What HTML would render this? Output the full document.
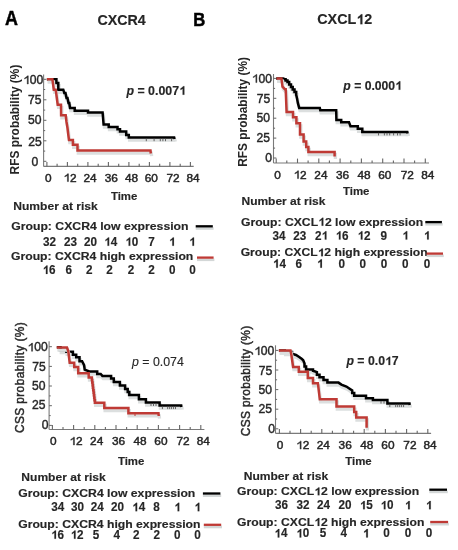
<!DOCTYPE html>
<html><head><meta charset="utf-8"><style>
html,body{margin:0;padding:0;background:#fff;width:458px;height:550px;overflow:hidden}
svg{display:block;font-family:"Liberation Sans",sans-serif;filter:blur(0.5px)}
</style></head><body>
<svg width="458" height="550" viewBox="0 0 458 550">
<defs><filter id="bl" x="-5%" y="-30%" width="110%" height="160%"><feGaussianBlur stdDeviation="0.7"/></filter></defs>
<rect width="458" height="550" fill="#fff"/>
<text transform="translate(5.00,25.20) scale(0.92,1)" font-size="19.5" font-weight="bold" fill="#000" stroke="#000" stroke-width="0.45" >A</text>
<text x="97.38" y="24.50" font-size="14.26" font-weight="bold" fill="#262626" stroke="#262626" stroke-width="0.15" >CXCR4</text>
<text transform="translate(193.20,26.10) scale(0.9,1)" font-size="18.5" font-weight="bold" fill="#000" stroke="#000" stroke-width="0.5" >B</text>
<text x="317.28" y="24.20" font-size="14.33" font-weight="bold" fill="#262626" stroke="#262626" stroke-width="0.15" >CXCL 2</text>
<path transform="translate(356.29,24.20) scale(14.330,14.330)" d="M0.425,0 L0.285,0 L0.285,-0.49 Q0.2,-0.415 0.11,-0.375 L0.11,-0.5 Q0.25,-0.57 0.33,-0.688 L0.425,-0.688 Z" fill="#262626" stroke="#262626" stroke-width="0.0105"/>
<line x1="43.6" y1="74.5" x2="43.6" y2="166.4" stroke="#7a7a7a" stroke-width="1.1"/>
<line x1="43.6" y1="166.4" x2="193.7" y2="166.4" stroke="#7a7a7a" stroke-width="1.1"/>
<line x1="43.6" y1="161.3" x2="46.4" y2="161.3" stroke="#666" stroke-width="1"/>
<line x1="43.6" y1="151.1" x2="45.2" y2="151.1" stroke="#666" stroke-width="1"/>
<line x1="43.6" y1="140.8" x2="46.4" y2="140.8" stroke="#666" stroke-width="1"/>
<line x1="43.6" y1="130.6" x2="45.2" y2="130.6" stroke="#666" stroke-width="1"/>
<line x1="43.6" y1="120.3" x2="46.4" y2="120.3" stroke="#666" stroke-width="1"/>
<line x1="43.6" y1="110.1" x2="45.2" y2="110.1" stroke="#666" stroke-width="1"/>
<line x1="43.6" y1="99.8" x2="46.4" y2="99.8" stroke="#666" stroke-width="1"/>
<line x1="43.6" y1="89.5" x2="45.2" y2="89.5" stroke="#666" stroke-width="1"/>
<line x1="43.6" y1="79.3" x2="46.4" y2="79.3" stroke="#666" stroke-width="1"/>
<line x1="46.9" y1="166.4" x2="46.9" y2="162.0" stroke="#666" stroke-width="1.1"/>
<line x1="57.1" y1="166.4" x2="57.1" y2="163.8" stroke="#666" stroke-width="1.1"/>
<line x1="67.4" y1="166.4" x2="67.4" y2="162.0" stroke="#666" stroke-width="1.1"/>
<line x1="77.7" y1="166.4" x2="77.7" y2="163.8" stroke="#666" stroke-width="1.1"/>
<line x1="87.9" y1="166.4" x2="87.9" y2="162.0" stroke="#666" stroke-width="1.1"/>
<line x1="98.2" y1="166.4" x2="98.2" y2="163.8" stroke="#666" stroke-width="1.1"/>
<line x1="108.4" y1="166.4" x2="108.4" y2="162.0" stroke="#666" stroke-width="1.1"/>
<line x1="118.7" y1="166.4" x2="118.7" y2="163.8" stroke="#666" stroke-width="1.1"/>
<line x1="128.9" y1="166.4" x2="128.9" y2="162.0" stroke="#666" stroke-width="1.1"/>
<line x1="139.2" y1="166.4" x2="139.2" y2="163.8" stroke="#666" stroke-width="1.1"/>
<line x1="149.4" y1="166.4" x2="149.4" y2="162.0" stroke="#666" stroke-width="1.1"/>
<line x1="159.7" y1="166.4" x2="159.7" y2="163.8" stroke="#666" stroke-width="1.1"/>
<line x1="169.9" y1="166.4" x2="169.9" y2="162.0" stroke="#666" stroke-width="1.1"/>
<line x1="180.2" y1="166.4" x2="180.2" y2="163.8" stroke="#666" stroke-width="1.1"/>
<line x1="190.4" y1="166.4" x2="190.4" y2="162.0" stroke="#666" stroke-width="1.1"/>
<text transform="translate(23.13,84.00) scale(1.02,1)" font-size="11.9" font-weight="normal" fill="#262626" stroke="#262626" stroke-width="0.4" > 00</text>
<path transform="translate(23.13,84.00) scale(12.138,11.900)" d="M0.425,0 L0.338,0 L0.338,-0.545 Q0.24,-0.465 0.12,-0.415 L0.12,-0.495 Q0.28,-0.58 0.36,-0.688 L0.425,-0.688 Z" fill="#262626" stroke="#262626" stroke-width="0.0336"/>
<text transform="translate(27.96,104.10) scale(1.02,1)" font-size="11.9" font-weight="normal" fill="#262626" stroke="#262626" stroke-width="0.4" >75</text>
<text transform="translate(27.96,124.40) scale(1.02,1)" font-size="11.9" font-weight="normal" fill="#262626" stroke="#262626" stroke-width="0.4" >50</text>
<text transform="translate(28.16,145.50) scale(1.02,1)" font-size="11.9" font-weight="normal" fill="#262626" stroke="#262626" stroke-width="0.4" >25</text>
<text transform="translate(31.60,165.90) scale(1.02,1)" font-size="11.9" font-weight="normal" fill="#262626" stroke="#262626" stroke-width="0.4" >0</text>
<text transform="translate(44.91,181.60) scale(1.04,1)" font-size="11.4" font-weight="normal" fill="#262626" stroke="#262626" stroke-width="0.45" >0</text>
<text transform="translate(63.40,181.60) scale(1.04,1)" font-size="11.4" font-weight="normal" fill="#262626" stroke="#262626" stroke-width="0.45" > 2</text>
<path transform="translate(63.40,181.60) scale(11.856,11.400)" d="M0.425,0 L0.338,0 L0.338,-0.545 Q0.24,-0.465 0.12,-0.415 L0.12,-0.495 Q0.28,-0.58 0.36,-0.688 L0.425,-0.688 Z" fill="#262626" stroke="#262626" stroke-width="0.0395"/>
<text transform="translate(83.40,181.60) scale(1.04,1)" font-size="11.4" font-weight="normal" fill="#262626" stroke="#262626" stroke-width="0.45" >24</text>
<text transform="translate(104.75,181.60) scale(1.04,1)" font-size="11.4" font-weight="normal" fill="#262626" stroke="#262626" stroke-width="0.45" >36</text>
<text transform="translate(125.01,181.60) scale(1.04,1)" font-size="11.4" font-weight="normal" fill="#262626" stroke="#262626" stroke-width="0.45" >48</text>
<text transform="translate(144.76,181.60) scale(1.04,1)" font-size="11.4" font-weight="normal" fill="#262626" stroke="#262626" stroke-width="0.45" >60</text>
<text transform="translate(166.42,181.60) scale(1.04,1)" font-size="11.4" font-weight="normal" fill="#262626" stroke="#262626" stroke-width="0.45" >72</text>
<text transform="translate(186.53,181.60) scale(1.04,1)" font-size="11.4" font-weight="normal" fill="#262626" stroke="#262626" stroke-width="0.45" >84</text>
<text x="110.94" y="199.60" font-size="11.41" font-weight="bold" fill="#262626" stroke="#262626" stroke-width="0.15" >Time</text>
<text x="126.45" y="94.70" font-size="12.38" font-weight="bold" fill="#262626" stroke="#262626" stroke-width="0.15" ><tspan font-style="italic">p</tspan> = 0.007 </text>
<path transform="translate(179.10,94.70) scale(12.380,12.380)" d="M0.425,0 L0.285,0 L0.285,-0.49 Q0.2,-0.415 0.11,-0.375 L0.11,-0.5 Q0.25,-0.57 0.33,-0.688 L0.425,-0.688 Z" fill="#262626" stroke="#262626" stroke-width="0.0121"/>
<text transform="translate(13.26,210.40) scale(1.06,1)" font-size="11.4" font-weight="bold" fill="#262626" stroke="#262626" stroke-width="0.15" >Number at risk</text>
<text transform="translate(11.16,230.00) scale(1.06,1)" font-size="11.55" font-weight="bold" fill="#262626" stroke="#262626" stroke-width="0.15" >Group: CXCR4 low expression</text>
<text transform="translate(10.96,260.40) scale(1.06,1)" font-size="11.52" font-weight="bold" fill="#262626" stroke="#262626" stroke-width="0.15" >Group: CXCR4 high expression</text>
<line x1="195.7" y1="228.5" x2="213.60000000000002" y2="228.5" stroke="#d3d7d7" stroke-width="2.6"/>
<line x1="195.7" y1="226.3" x2="212.8" y2="226.3" stroke="#000" stroke-width="2.3"/>
<line x1="197" y1="259.8" x2="214.4" y2="259.8" stroke="#d3d7d7" stroke-width="2.6"/>
<line x1="197" y1="257.6" x2="213.6" y2="257.6" stroke="#bf3a35" stroke-width="2.3"/>
<text transform="translate(42.99,245.80) scale(0.96,1)" font-size="12.2" font-weight="bold" fill="#262626" stroke="#262626" stroke-width="0.15" >32</text>
<text transform="translate(63.90,245.80) scale(0.96,1)" font-size="12.2" font-weight="bold" fill="#262626" stroke="#262626" stroke-width="0.15" >23</text>
<text transform="translate(83.93,245.80) scale(0.96,1)" font-size="12.2" font-weight="bold" fill="#262626" stroke="#262626" stroke-width="0.15" >20</text>
<text transform="translate(104.18,245.80) scale(0.96,1)" font-size="12.2" font-weight="bold" fill="#262626" stroke="#262626" stroke-width="0.15" > 4</text>
<path transform="translate(104.18,245.80) scale(11.712,12.200)" d="M0.425,0 L0.285,0 L0.285,-0.49 Q0.2,-0.415 0.11,-0.375 L0.11,-0.5 Q0.25,-0.57 0.33,-0.688 L0.425,-0.688 Z" fill="#262626" stroke="#262626" stroke-width="0.0123"/>
<text transform="translate(125.29,245.80) scale(0.96,1)" font-size="12.2" font-weight="bold" fill="#262626" stroke="#262626" stroke-width="0.15" > 0</text>
<path transform="translate(125.29,245.80) scale(11.712,12.200)" d="M0.425,0 L0.285,0 L0.285,-0.49 Q0.2,-0.415 0.11,-0.375 L0.11,-0.5 Q0.25,-0.57 0.33,-0.688 L0.425,-0.688 Z" fill="#262626" stroke="#262626" stroke-width="0.0123"/>
<text transform="translate(148.15,245.80) scale(0.96,1)" font-size="12.2" font-weight="bold" fill="#262626" stroke="#262626" stroke-width="0.15" >7</text>
<text transform="translate(168.97,245.80) scale(0.96,1)" font-size="12.2" font-weight="bold" fill="#262626" stroke="#262626" stroke-width="0.15" > </text>
<path transform="translate(168.97,245.80) scale(11.712,12.200)" d="M0.425,0 L0.285,0 L0.285,-0.49 Q0.2,-0.415 0.11,-0.375 L0.11,-0.5 Q0.25,-0.57 0.33,-0.688 L0.425,-0.688 Z" fill="#262626" stroke="#262626" stroke-width="0.0123"/>
<text transform="translate(189.07,245.80) scale(0.96,1)" font-size="12.2" font-weight="bold" fill="#262626" stroke="#262626" stroke-width="0.15" > </text>
<path transform="translate(189.07,245.80) scale(11.712,12.200)" d="M0.425,0 L0.285,0 L0.285,-0.49 Q0.2,-0.415 0.11,-0.375 L0.11,-0.5 Q0.25,-0.57 0.33,-0.688 L0.425,-0.688 Z" fill="#262626" stroke="#262626" stroke-width="0.0123"/>
<text transform="translate(42.56,274.00) scale(0.96,1)" font-size="12.2" font-weight="bold" fill="#262626" stroke="#262626" stroke-width="0.15" > 6</text>
<path transform="translate(42.56,274.00) scale(11.712,12.200)" d="M0.425,0 L0.285,0 L0.285,-0.49 Q0.2,-0.415 0.11,-0.375 L0.11,-0.5 Q0.25,-0.57 0.33,-0.688 L0.425,-0.688 Z" fill="#262626" stroke="#262626" stroke-width="0.0123"/>
<text transform="translate(65.55,274.00) scale(0.96,1)" font-size="12.2" font-weight="bold" fill="#262626" stroke="#262626" stroke-width="0.15" >6</text>
<text transform="translate(86.08,274.00) scale(0.96,1)" font-size="12.2" font-weight="bold" fill="#262626" stroke="#262626" stroke-width="0.15" >2</text>
<text transform="translate(106.18,274.00) scale(0.96,1)" font-size="12.2" font-weight="bold" fill="#262626" stroke="#262626" stroke-width="0.15" >2</text>
<text transform="translate(127.68,274.00) scale(0.96,1)" font-size="12.2" font-weight="bold" fill="#262626" stroke="#262626" stroke-width="0.15" >2</text>
<text transform="translate(148.18,274.00) scale(0.96,1)" font-size="12.2" font-weight="bold" fill="#262626" stroke="#262626" stroke-width="0.15" >2</text>
<text transform="translate(168.95,274.00) scale(0.96,1)" font-size="12.2" font-weight="bold" fill="#262626" stroke="#262626" stroke-width="0.15" >0</text>
<text transform="translate(189.25,274.00) scale(0.96,1)" font-size="12.2" font-weight="bold" fill="#262626" stroke="#262626" stroke-width="0.15" >0</text>
<text transform="translate(18.72,174.42) rotate(-90)" font-size="11.92" font-weight="bold" fill="#262626">RFS probability (%)</text>
<polyline points="46.9,79.3 56.4,79.3 56.4,83.1 58.3,83.1 58.3,89.7 63.3,89.7 64.3,93.0 65.5,93.0 66.5,98.0 67.5,98.0 68.5,103.0 69.3,103.0 70.0,108.0 74.7,108.0 74.7,110.7 88.0,110.7 88.0,112.4 102.6,112.4 103.6,124.5 108.7,124.5 108.7,127.0 117.5,127.0 117.5,129.2 120.0,129.2 120.0,131.4 126.2,131.4 126.2,135.0 128.8,135.0 128.8,137.6 174.2,137.6 174.6,139.0" fill="none" stroke="#dcdfdf" stroke-width="3.3" transform="translate(0.8,2.6)" filter="url(#bl)"/>
<polyline points="46.9,79.3 56.4,79.3 56.4,83.1 58.3,83.1 58.3,89.7 63.3,89.7 64.3,93.0 65.5,93.0 66.5,98.0 67.5,98.0 68.5,103.0 69.3,103.0 70.0,108.0 74.7,108.0 74.7,110.7 88.0,110.7 88.0,112.4 102.6,112.4 103.6,124.5 108.7,124.5 108.7,127.0 117.5,127.0 117.5,129.2 120.0,129.2 120.0,131.4 126.2,131.4 126.2,135.0 128.8,135.0 128.8,137.6 174.2,137.6 174.6,139.0" fill="none" stroke="#000" stroke-width="2.5" stroke-linejoin="miter"/>
<polyline points="46.9,79.3 52.4,79.3 53.8,89.7 55.7,89.7 57.7,104.7 61.0,104.7 61.1,115.2 65.7,115.2 66.5,122.0 67.5,128.0 68.2,134.0 69.0,140.1 72.9,140.1 72.9,144.7 77.5,144.7 77.5,150.6 150.5,150.6 150.8,153.5" fill="none" stroke="#dcdfdf" stroke-width="3.3" transform="translate(0.8,2.6)" filter="url(#bl)"/>
<polyline points="46.9,79.3 52.4,79.3 53.8,89.7 55.7,89.7 57.7,104.7 61.0,104.7 61.1,115.2 65.7,115.2 66.5,122.0 67.5,128.0 68.2,134.0 69.0,140.1 72.9,140.1 72.9,144.7 77.5,144.7 77.5,150.6 150.5,150.6 150.8,153.5" fill="none" stroke="#bf3a35" stroke-width="2.5" stroke-linejoin="miter"/>
<line x1="273.5" y1="74" x2="273.5" y2="163" stroke="#7a7a7a" stroke-width="1.1"/>
<line x1="273.5" y1="163" x2="429" y2="163" stroke="#7a7a7a" stroke-width="1.1"/>
<line x1="273.5" y1="158.0" x2="276.3" y2="158.0" stroke="#666" stroke-width="1"/>
<line x1="273.5" y1="148.1" x2="275.1" y2="148.1" stroke="#666" stroke-width="1"/>
<line x1="273.5" y1="138.1" x2="276.3" y2="138.1" stroke="#666" stroke-width="1"/>
<line x1="273.5" y1="128.2" x2="275.1" y2="128.2" stroke="#666" stroke-width="1"/>
<line x1="273.5" y1="118.2" x2="276.3" y2="118.2" stroke="#666" stroke-width="1"/>
<line x1="273.5" y1="108.2" x2="275.1" y2="108.2" stroke="#666" stroke-width="1"/>
<line x1="273.5" y1="98.3" x2="276.3" y2="98.3" stroke="#666" stroke-width="1"/>
<line x1="273.5" y1="88.4" x2="275.1" y2="88.4" stroke="#666" stroke-width="1"/>
<line x1="273.5" y1="78.4" x2="276.3" y2="78.4" stroke="#666" stroke-width="1"/>
<line x1="276.2" y1="163" x2="276.2" y2="158.6" stroke="#666" stroke-width="1.1"/>
<line x1="286.8" y1="163" x2="286.8" y2="160.4" stroke="#666" stroke-width="1.1"/>
<line x1="297.5" y1="163" x2="297.5" y2="158.6" stroke="#666" stroke-width="1.1"/>
<line x1="308.1" y1="163" x2="308.1" y2="160.4" stroke="#666" stroke-width="1.1"/>
<line x1="318.8" y1="163" x2="318.8" y2="158.6" stroke="#666" stroke-width="1.1"/>
<line x1="329.4" y1="163" x2="329.4" y2="160.4" stroke="#666" stroke-width="1.1"/>
<line x1="340.1" y1="163" x2="340.1" y2="158.6" stroke="#666" stroke-width="1.1"/>
<line x1="350.8" y1="163" x2="350.8" y2="160.4" stroke="#666" stroke-width="1.1"/>
<line x1="361.4" y1="163" x2="361.4" y2="158.6" stroke="#666" stroke-width="1.1"/>
<line x1="372.1" y1="163" x2="372.1" y2="160.4" stroke="#666" stroke-width="1.1"/>
<line x1="382.7" y1="163" x2="382.7" y2="158.6" stroke="#666" stroke-width="1.1"/>
<line x1="393.4" y1="163" x2="393.4" y2="160.4" stroke="#666" stroke-width="1.1"/>
<line x1="404.0" y1="163" x2="404.0" y2="158.6" stroke="#666" stroke-width="1.1"/>
<line x1="414.6" y1="163" x2="414.6" y2="160.4" stroke="#666" stroke-width="1.1"/>
<line x1="425.3" y1="163" x2="425.3" y2="158.6" stroke="#666" stroke-width="1.1"/>
<text transform="translate(251.73,82.60) scale(1.02,1)" font-size="11.9" font-weight="normal" fill="#262626" stroke="#262626" stroke-width="0.4" > 00</text>
<path transform="translate(251.73,82.60) scale(12.138,11.900)" d="M0.425,0 L0.338,0 L0.338,-0.545 Q0.24,-0.465 0.12,-0.415 L0.12,-0.495 Q0.28,-0.58 0.36,-0.688 L0.425,-0.688 Z" fill="#262626" stroke="#262626" stroke-width="0.0336"/>
<text transform="translate(256.66,102.60) scale(1.02,1)" font-size="11.9" font-weight="normal" fill="#262626" stroke="#262626" stroke-width="0.4" >75</text>
<text transform="translate(256.56,122.00) scale(1.02,1)" font-size="11.9" font-weight="normal" fill="#262626" stroke="#262626" stroke-width="0.4" >50</text>
<text transform="translate(256.56,142.00) scale(1.02,1)" font-size="11.9" font-weight="normal" fill="#262626" stroke="#262626" stroke-width="0.4" >25</text>
<text transform="translate(265.30,161.50) scale(1.02,1)" font-size="11.9" font-weight="normal" fill="#262626" stroke="#262626" stroke-width="0.4" >0</text>
<text transform="translate(274.31,178.60) scale(1.04,1)" font-size="11.4" font-weight="normal" fill="#262626" stroke="#262626" stroke-width="0.45" >0</text>
<text transform="translate(293.50,178.60) scale(1.04,1)" font-size="11.4" font-weight="normal" fill="#262626" stroke="#262626" stroke-width="0.45" > 2</text>
<path transform="translate(293.50,178.60) scale(11.856,11.400)" d="M0.425,0 L0.338,0 L0.338,-0.545 Q0.24,-0.465 0.12,-0.415 L0.12,-0.495 Q0.28,-0.58 0.36,-0.688 L0.425,-0.688 Z" fill="#262626" stroke="#262626" stroke-width="0.0395"/>
<text transform="translate(314.30,178.60) scale(1.04,1)" font-size="11.4" font-weight="normal" fill="#262626" stroke="#262626" stroke-width="0.45" >24</text>
<text transform="translate(335.95,178.60) scale(1.04,1)" font-size="11.4" font-weight="normal" fill="#262626" stroke="#262626" stroke-width="0.45" >36</text>
<text transform="translate(357.51,178.60) scale(1.04,1)" font-size="11.4" font-weight="normal" fill="#262626" stroke="#262626" stroke-width="0.45" >48</text>
<text transform="translate(378.26,178.60) scale(1.04,1)" font-size="11.4" font-weight="normal" fill="#262626" stroke="#262626" stroke-width="0.45" >60</text>
<text transform="translate(400.72,178.60) scale(1.04,1)" font-size="11.4" font-weight="normal" fill="#262626" stroke="#262626" stroke-width="0.45" >72</text>
<text transform="translate(421.13,178.60) scale(1.04,1)" font-size="11.4" font-weight="normal" fill="#262626" stroke="#262626" stroke-width="0.45" >84</text>
<text x="343.04" y="194.60" font-size="11.41" font-weight="bold" fill="#262626" stroke="#262626" stroke-width="0.15" >Time</text>
<text x="343.36" y="89.70" font-size="12.18" font-weight="bold" fill="#262626" stroke="#262626" stroke-width="0.15" ><tspan font-style="italic">p</tspan> = 0.000 </text>
<path transform="translate(395.16,89.70) scale(12.180,12.180)" d="M0.425,0 L0.285,0 L0.285,-0.49 Q0.2,-0.415 0.11,-0.375 L0.11,-0.5 Q0.25,-0.57 0.33,-0.688 L0.425,-0.688 Z" fill="#262626" stroke="#262626" stroke-width="0.0123"/>
<text transform="translate(241.47,205.40) scale(1.06,1)" font-size="11.33" font-weight="bold" fill="#262626" stroke="#262626" stroke-width="0.15" >Number at risk</text>
<text transform="translate(240.96,225.70) scale(1.06,1)" font-size="11.5" font-weight="bold" fill="#262626" stroke="#262626" stroke-width="0.15" >Group: CXCL 2 low expression</text>
<path transform="translate(318.16,225.70) scale(12.190,11.500)" d="M0.425,0 L0.285,0 L0.285,-0.49 Q0.2,-0.415 0.11,-0.375 L0.11,-0.5 Q0.25,-0.57 0.33,-0.688 L0.425,-0.688 Z" fill="#262626" stroke="#262626" stroke-width="0.0130"/>
<text transform="translate(240.66,256.30) scale(1.06,1)" font-size="11.48" font-weight="bold" fill="#262626" stroke="#262626" stroke-width="0.15" >Group: CXCL 2 high expression</text>
<path transform="translate(317.72,256.30) scale(12.169,11.480)" d="M0.425,0 L0.285,0 L0.285,-0.49 Q0.2,-0.415 0.11,-0.375 L0.11,-0.5 Q0.25,-0.57 0.33,-0.688 L0.425,-0.688 Z" fill="#262626" stroke="#262626" stroke-width="0.0131"/>
<line x1="425.3" y1="224.29999999999998" x2="442.7" y2="224.29999999999998" stroke="#d3d7d7" stroke-width="2.6"/>
<line x1="425.3" y1="222.1" x2="441.9" y2="222.1" stroke="#000" stroke-width="2.3"/>
<line x1="426.6" y1="255.79999999999998" x2="443.8" y2="255.79999999999998" stroke="#d3d7d7" stroke-width="2.6"/>
<line x1="426.6" y1="253.6" x2="443" y2="253.6" stroke="#bf3a35" stroke-width="2.3"/>
<text transform="translate(272.48,239.60) scale(0.96,1)" font-size="12.2" font-weight="bold" fill="#262626" stroke="#262626" stroke-width="0.15" >34</text>
<text transform="translate(293.20,239.60) scale(0.96,1)" font-size="12.2" font-weight="bold" fill="#262626" stroke="#262626" stroke-width="0.15" >23</text>
<text transform="translate(314.95,239.60) scale(0.96,1)" font-size="12.2" font-weight="bold" fill="#262626" stroke="#262626" stroke-width="0.15" >2 </text>
<path transform="translate(321.46,239.60) scale(11.712,12.200)" d="M0.425,0 L0.285,0 L0.285,-0.49 Q0.2,-0.415 0.11,-0.375 L0.11,-0.5 Q0.25,-0.57 0.33,-0.688 L0.425,-0.688 Z" fill="#262626" stroke="#262626" stroke-width="0.0123"/>
<text transform="translate(335.56,239.60) scale(0.96,1)" font-size="12.2" font-weight="bold" fill="#262626" stroke="#262626" stroke-width="0.15" > 6</text>
<path transform="translate(335.56,239.60) scale(11.712,12.200)" d="M0.425,0 L0.285,0 L0.285,-0.49 Q0.2,-0.415 0.11,-0.375 L0.11,-0.5 Q0.25,-0.57 0.33,-0.688 L0.425,-0.688 Z" fill="#262626" stroke="#262626" stroke-width="0.0123"/>
<text transform="translate(357.49,239.60) scale(0.96,1)" font-size="12.2" font-weight="bold" fill="#262626" stroke="#262626" stroke-width="0.15" > 2</text>
<path transform="translate(357.49,239.60) scale(11.712,12.200)" d="M0.425,0 L0.285,0 L0.285,-0.49 Q0.2,-0.415 0.11,-0.375 L0.11,-0.5 Q0.25,-0.57 0.33,-0.688 L0.425,-0.688 Z" fill="#262626" stroke="#262626" stroke-width="0.0123"/>
<text transform="translate(380.45,239.60) scale(0.96,1)" font-size="12.2" font-weight="bold" fill="#262626" stroke="#262626" stroke-width="0.15" >9</text>
<text transform="translate(402.27,239.60) scale(0.96,1)" font-size="12.2" font-weight="bold" fill="#262626" stroke="#262626" stroke-width="0.15" > </text>
<path transform="translate(402.27,239.60) scale(11.712,12.200)" d="M0.425,0 L0.285,0 L0.285,-0.49 Q0.2,-0.415 0.11,-0.375 L0.11,-0.5 Q0.25,-0.57 0.33,-0.688 L0.425,-0.688 Z" fill="#262626" stroke="#262626" stroke-width="0.0123"/>
<text transform="translate(423.77,239.60) scale(0.96,1)" font-size="12.2" font-weight="bold" fill="#262626" stroke="#262626" stroke-width="0.15" > </text>
<path transform="translate(423.77,239.60) scale(11.712,12.200)" d="M0.425,0 L0.285,0 L0.285,-0.49 Q0.2,-0.415 0.11,-0.375 L0.11,-0.5 Q0.25,-0.57 0.33,-0.688 L0.425,-0.688 Z" fill="#262626" stroke="#262626" stroke-width="0.0123"/>
<text transform="translate(272.88,267.70) scale(0.96,1)" font-size="12.2" font-weight="bold" fill="#262626" stroke="#262626" stroke-width="0.15" > 4</text>
<path transform="translate(272.88,267.70) scale(11.712,12.200)" d="M0.425,0 L0.285,0 L0.285,-0.49 Q0.2,-0.415 0.11,-0.375 L0.11,-0.5 Q0.25,-0.57 0.33,-0.688 L0.425,-0.688 Z" fill="#262626" stroke="#262626" stroke-width="0.0123"/>
<text transform="translate(295.55,267.70) scale(0.96,1)" font-size="12.2" font-weight="bold" fill="#262626" stroke="#262626" stroke-width="0.15" >6</text>
<text transform="translate(316.97,267.70) scale(0.96,1)" font-size="12.2" font-weight="bold" fill="#262626" stroke="#262626" stroke-width="0.15" > </text>
<path transform="translate(316.97,267.70) scale(11.712,12.200)" d="M0.425,0 L0.285,0 L0.285,-0.49 Q0.2,-0.415 0.11,-0.375 L0.11,-0.5 Q0.25,-0.57 0.33,-0.688 L0.425,-0.688 Z" fill="#262626" stroke="#262626" stroke-width="0.0123"/>
<text transform="translate(338.45,267.70) scale(0.96,1)" font-size="12.2" font-weight="bold" fill="#262626" stroke="#262626" stroke-width="0.15" >0</text>
<text transform="translate(359.55,267.70) scale(0.96,1)" font-size="12.2" font-weight="bold" fill="#262626" stroke="#262626" stroke-width="0.15" >0</text>
<text transform="translate(380.75,267.70) scale(0.96,1)" font-size="12.2" font-weight="bold" fill="#262626" stroke="#262626" stroke-width="0.15" >0</text>
<text transform="translate(402.05,267.70) scale(0.96,1)" font-size="12.2" font-weight="bold" fill="#262626" stroke="#262626" stroke-width="0.15" >0</text>
<text transform="translate(423.75,267.70) scale(0.96,1)" font-size="12.2" font-weight="bold" fill="#262626" stroke="#262626" stroke-width="0.15" >0</text>
<text transform="translate(246.82,166.82) rotate(-90)" font-size="11.91" font-weight="bold" fill="#262626">RFS probability (%)</text>
<polyline points="276.2,78.4 283.1,78.4 284.8,79.2 285.6,79.2 285.6,80.4 287.5,80.4 287.5,82.0 289.2,82.0 289.2,84.5 291.0,84.5 291.0,87.0 292.7,87.0 292.7,89.5 294.5,89.5 294.5,92.0 296.2,92.0 296.2,94.8 297.1,98.8 297.9,103.2 299.2,107.9 319.8,107.9 320.3,110.3 336.2,110.3 336.4,119.9 341.2,119.9 341.2,122.3 349.0,122.3 350.5,126.2 357.8,126.2 357.8,128.8 362.3,128.8 362.3,131.9 407.3,131.9 407.6,133.5" fill="none" stroke="#dcdfdf" stroke-width="3.3" transform="translate(0.8,2.6)" filter="url(#bl)"/>
<polyline points="276.2,78.4 283.1,78.4 284.8,79.2 285.6,79.2 285.6,80.4 287.5,80.4 287.5,82.0 289.2,82.0 289.2,84.5 291.0,84.5 291.0,87.0 292.7,87.0 292.7,89.5 294.5,89.5 294.5,92.0 296.2,92.0 296.2,94.8 297.1,98.8 297.9,103.2 299.2,107.9 319.8,107.9 320.3,110.3 336.2,110.3 336.4,119.9 341.2,119.9 341.2,122.3 349.0,122.3 350.5,126.2 357.8,126.2 357.8,128.8 362.3,128.8 362.3,131.9 407.3,131.9 407.6,133.5" fill="none" stroke="#000" stroke-width="2.5" stroke-linejoin="miter"/>
<polyline points="276.5,78.4 281.4,78.4 282.5,86.6 284.8,89.2 285.7,89.2 286.6,111.9 293.0,111.9 293.0,117.2 296.4,117.2 296.4,123.3 300.0,123.3 300.0,134.6 303.6,134.6 303.6,141.6 306.2,141.6 306.2,146.9 308.4,146.9 308.4,151.9 334.6,151.9 334.6,156.5" fill="none" stroke="#dcdfdf" stroke-width="3.3" transform="translate(0.8,2.6)" filter="url(#bl)"/>
<polyline points="276.5,78.4 281.4,78.4 282.5,86.6 284.8,89.2 285.7,89.2 286.6,111.9 293.0,111.9 293.0,117.2 296.4,117.2 296.4,123.3 300.0,123.3 300.0,134.6 303.6,134.6 303.6,141.6 306.2,141.6 306.2,146.9 308.4,146.9 308.4,151.9 334.6,151.9 334.6,156.5" fill="none" stroke="#bf3a35" stroke-width="2.5" stroke-linejoin="miter"/>
<line x1="49.1" y1="341.3" x2="49.1" y2="429.5" stroke="#7a7a7a" stroke-width="1.1"/>
<line x1="49.1" y1="429.5" x2="204.4" y2="429.5" stroke="#7a7a7a" stroke-width="1.1"/>
<line x1="49.1" y1="425.4" x2="51.9" y2="425.4" stroke="#666" stroke-width="1"/>
<line x1="49.1" y1="415.6" x2="50.7" y2="415.6" stroke="#666" stroke-width="1"/>
<line x1="49.1" y1="405.7" x2="51.9" y2="405.7" stroke="#666" stroke-width="1"/>
<line x1="49.1" y1="395.9" x2="50.7" y2="395.9" stroke="#666" stroke-width="1"/>
<line x1="49.1" y1="386.0" x2="51.9" y2="386.0" stroke="#666" stroke-width="1"/>
<line x1="49.1" y1="376.2" x2="50.7" y2="376.2" stroke="#666" stroke-width="1"/>
<line x1="49.1" y1="366.4" x2="51.9" y2="366.4" stroke="#666" stroke-width="1"/>
<line x1="49.1" y1="356.5" x2="50.7" y2="356.5" stroke="#666" stroke-width="1"/>
<line x1="49.1" y1="346.7" x2="51.9" y2="346.7" stroke="#666" stroke-width="1"/>
<line x1="52.4" y1="429.5" x2="52.4" y2="425.1" stroke="#666" stroke-width="1.1"/>
<line x1="63.0" y1="429.5" x2="63.0" y2="426.9" stroke="#666" stroke-width="1.1"/>
<line x1="73.6" y1="429.5" x2="73.6" y2="425.1" stroke="#666" stroke-width="1.1"/>
<line x1="84.2" y1="429.5" x2="84.2" y2="426.9" stroke="#666" stroke-width="1.1"/>
<line x1="94.8" y1="429.5" x2="94.8" y2="425.1" stroke="#666" stroke-width="1.1"/>
<line x1="105.4" y1="429.5" x2="105.4" y2="426.9" stroke="#666" stroke-width="1.1"/>
<line x1="116.0" y1="429.5" x2="116.0" y2="425.1" stroke="#666" stroke-width="1.1"/>
<line x1="126.6" y1="429.5" x2="126.6" y2="426.9" stroke="#666" stroke-width="1.1"/>
<line x1="137.2" y1="429.5" x2="137.2" y2="425.1" stroke="#666" stroke-width="1.1"/>
<line x1="147.8" y1="429.5" x2="147.8" y2="426.9" stroke="#666" stroke-width="1.1"/>
<line x1="158.4" y1="429.5" x2="158.4" y2="425.1" stroke="#666" stroke-width="1.1"/>
<line x1="169.0" y1="429.5" x2="169.0" y2="426.9" stroke="#666" stroke-width="1.1"/>
<line x1="179.6" y1="429.5" x2="179.6" y2="425.1" stroke="#666" stroke-width="1.1"/>
<line x1="190.2" y1="429.5" x2="190.2" y2="426.9" stroke="#666" stroke-width="1.1"/>
<line x1="200.8" y1="429.5" x2="200.8" y2="425.1" stroke="#666" stroke-width="1.1"/>
<text transform="translate(27.43,351.30) scale(1.02,1)" font-size="11.9" font-weight="normal" fill="#262626" stroke="#262626" stroke-width="0.4" > 00</text>
<path transform="translate(27.43,351.30) scale(12.138,11.900)" d="M0.425,0 L0.338,0 L0.338,-0.545 Q0.24,-0.465 0.12,-0.415 L0.12,-0.495 Q0.28,-0.58 0.36,-0.688 L0.425,-0.688 Z" fill="#262626" stroke="#262626" stroke-width="0.0336"/>
<text transform="translate(32.36,371.00) scale(1.02,1)" font-size="11.9" font-weight="normal" fill="#262626" stroke="#262626" stroke-width="0.4" >75</text>
<text transform="translate(32.06,390.00) scale(1.02,1)" font-size="11.9" font-weight="normal" fill="#262626" stroke="#262626" stroke-width="0.4" >50</text>
<text transform="translate(32.06,409.10) scale(1.02,1)" font-size="11.9" font-weight="normal" fill="#262626" stroke="#262626" stroke-width="0.4" >25</text>
<text transform="translate(41.80,429.40) scale(1.02,1)" font-size="11.9" font-weight="normal" fill="#262626" stroke="#262626" stroke-width="0.4" >0</text>
<text transform="translate(50.11,445.00) scale(1.04,1)" font-size="11.4" font-weight="normal" fill="#262626" stroke="#262626" stroke-width="0.45" >0</text>
<text transform="translate(69.40,445.00) scale(1.04,1)" font-size="11.4" font-weight="normal" fill="#262626" stroke="#262626" stroke-width="0.45" > 2</text>
<path transform="translate(69.40,445.00) scale(11.856,11.400)" d="M0.425,0 L0.338,0 L0.338,-0.545 Q0.24,-0.465 0.12,-0.415 L0.12,-0.495 Q0.28,-0.58 0.36,-0.688 L0.425,-0.688 Z" fill="#262626" stroke="#262626" stroke-width="0.0395"/>
<text transform="translate(90.10,445.00) scale(1.04,1)" font-size="11.4" font-weight="normal" fill="#262626" stroke="#262626" stroke-width="0.45" >24</text>
<text transform="translate(111.95,445.00) scale(1.04,1)" font-size="11.4" font-weight="normal" fill="#262626" stroke="#262626" stroke-width="0.45" >36</text>
<text transform="translate(133.51,445.00) scale(1.04,1)" font-size="11.4" font-weight="normal" fill="#262626" stroke="#262626" stroke-width="0.45" >48</text>
<text transform="translate(154.36,445.00) scale(1.04,1)" font-size="11.4" font-weight="normal" fill="#262626" stroke="#262626" stroke-width="0.45" >60</text>
<text transform="translate(176.42,445.00) scale(1.04,1)" font-size="11.4" font-weight="normal" fill="#262626" stroke="#262626" stroke-width="0.45" >72</text>
<text transform="translate(196.73,445.00) scale(1.04,1)" font-size="11.4" font-weight="normal" fill="#262626" stroke="#262626" stroke-width="0.45" >84</text>
<text x="117.94" y="465.00" font-size="11.41" font-weight="bold" fill="#262626" stroke="#262626" stroke-width="0.15" >Time</text>
<text x="131.95" y="366.40" font-size="12.37" font-weight="normal" fill="#262626" stroke="#262626" stroke-width="0.12" ><tspan font-style="italic">p</tspan> = 0.074</text>
<text transform="translate(21.37,480.90) scale(1.06,1)" font-size="11.37" font-weight="bold" fill="#262626" stroke="#262626" stroke-width="0.15" >Number at risk</text>
<text transform="translate(18.16,497.00) scale(1.06,1)" font-size="11.53" font-weight="bold" fill="#262626" stroke="#262626" stroke-width="0.15" >Group: CXCR4 low expression</text>
<text transform="translate(18.16,527.60) scale(1.06,1)" font-size="11.52" font-weight="bold" fill="#262626" stroke="#262626" stroke-width="0.15" >Group: CXCR4 high expression</text>
<line x1="202.9" y1="495.7" x2="221.20000000000002" y2="495.7" stroke="#d3d7d7" stroke-width="2.6"/>
<line x1="202.9" y1="493.5" x2="220.4" y2="493.5" stroke="#000" stroke-width="2.3"/>
<line x1="203.8" y1="527.0" x2="222.0" y2="527.0" stroke="#d3d7d7" stroke-width="2.6"/>
<line x1="203.8" y1="524.8" x2="221.2" y2="524.8" stroke="#bf3a35" stroke-width="2.3"/>
<text transform="translate(51.28,511.20) scale(0.96,1)" font-size="12.2" font-weight="bold" fill="#262626" stroke="#262626" stroke-width="0.15" >34</text>
<text transform="translate(71.09,511.20) scale(0.96,1)" font-size="12.2" font-weight="bold" fill="#262626" stroke="#262626" stroke-width="0.15" >30</text>
<text transform="translate(90.72,511.20) scale(0.96,1)" font-size="12.2" font-weight="bold" fill="#262626" stroke="#262626" stroke-width="0.15" >24</text>
<text transform="translate(111.03,511.20) scale(0.96,1)" font-size="12.2" font-weight="bold" fill="#262626" stroke="#262626" stroke-width="0.15" >20</text>
<text transform="translate(132.18,511.20) scale(0.96,1)" font-size="12.2" font-weight="bold" fill="#262626" stroke="#262626" stroke-width="0.15" > 4</text>
<path transform="translate(132.18,511.20) scale(11.712,12.200)" d="M0.425,0 L0.285,0 L0.285,-0.49 Q0.2,-0.415 0.11,-0.375 L0.11,-0.5 Q0.25,-0.57 0.33,-0.688 L0.425,-0.688 Z" fill="#262626" stroke="#262626" stroke-width="0.0123"/>
<text transform="translate(153.35,511.20) scale(0.96,1)" font-size="12.2" font-weight="bold" fill="#262626" stroke="#262626" stroke-width="0.15" >8</text>
<text transform="translate(174.27,511.20) scale(0.96,1)" font-size="12.2" font-weight="bold" fill="#262626" stroke="#262626" stroke-width="0.15" > </text>
<path transform="translate(174.27,511.20) scale(11.712,12.200)" d="M0.425,0 L0.285,0 L0.285,-0.49 Q0.2,-0.415 0.11,-0.375 L0.11,-0.5 Q0.25,-0.57 0.33,-0.688 L0.425,-0.688 Z" fill="#262626" stroke="#262626" stroke-width="0.0123"/>
<text transform="translate(194.37,511.20) scale(0.96,1)" font-size="12.2" font-weight="bold" fill="#262626" stroke="#262626" stroke-width="0.15" > </text>
<path transform="translate(194.37,511.20) scale(11.712,12.200)" d="M0.425,0 L0.285,0 L0.285,-0.49 Q0.2,-0.415 0.11,-0.375 L0.11,-0.5 Q0.25,-0.57 0.33,-0.688 L0.425,-0.688 Z" fill="#262626" stroke="#262626" stroke-width="0.0123"/>
<text transform="translate(51.06,538.80) scale(0.96,1)" font-size="12.2" font-weight="bold" fill="#262626" stroke="#262626" stroke-width="0.15" > 6</text>
<path transform="translate(51.06,538.80) scale(11.712,12.200)" d="M0.425,0 L0.285,0 L0.285,-0.49 Q0.2,-0.415 0.11,-0.375 L0.11,-0.5 Q0.25,-0.57 0.33,-0.688 L0.425,-0.688 Z" fill="#262626" stroke="#262626" stroke-width="0.0123"/>
<text transform="translate(70.59,538.80) scale(0.96,1)" font-size="12.2" font-weight="bold" fill="#262626" stroke="#262626" stroke-width="0.15" > 2</text>
<path transform="translate(70.59,538.80) scale(11.712,12.200)" d="M0.425,0 L0.285,0 L0.285,-0.49 Q0.2,-0.415 0.11,-0.375 L0.11,-0.5 Q0.25,-0.57 0.33,-0.688 L0.425,-0.688 Z" fill="#262626" stroke="#262626" stroke-width="0.0123"/>
<text transform="translate(92.72,538.80) scale(0.96,1)" font-size="12.2" font-weight="bold" fill="#262626" stroke="#262626" stroke-width="0.15" >5</text>
<text transform="translate(113.49,538.80) scale(0.96,1)" font-size="12.2" font-weight="bold" fill="#262626" stroke="#262626" stroke-width="0.15" >4</text>
<text transform="translate(133.08,538.80) scale(0.96,1)" font-size="12.2" font-weight="bold" fill="#262626" stroke="#262626" stroke-width="0.15" >2</text>
<text transform="translate(153.58,538.80) scale(0.96,1)" font-size="12.2" font-weight="bold" fill="#262626" stroke="#262626" stroke-width="0.15" >2</text>
<text transform="translate(173.95,538.80) scale(0.96,1)" font-size="12.2" font-weight="bold" fill="#262626" stroke="#262626" stroke-width="0.15" >0</text>
<text transform="translate(194.25,538.80) scale(0.96,1)" font-size="12.2" font-weight="bold" fill="#262626" stroke="#262626" stroke-width="0.15" >0</text>
<text transform="translate(23.86,433.05) rotate(-90)" font-size="11.90" font-weight="normal" fill="#2a2a2a" stroke="#2a2a2a" stroke-width="0.45" letter-spacing="0.391">CSS probability (%)</text>
<polyline points="56.8,347.2 60.5,347.2 60.5,350.0 66.4,350.0 66.4,351.8 72.9,351.8 72.9,354.7 76.2,354.7 76.2,357.3 79.5,357.3 79.5,361.2 82.1,361.2 84.1,365.1 84.7,369.7 89.3,371.4 97.2,371.4 97.2,374.0 100.7,374.0 102.4,375.9 111.1,375.9 111.1,378.4 113.8,378.4 113.8,381.9 119.9,381.9 119.9,385.4 125.1,385.4 125.1,388.9 127.7,388.9 127.7,391.9 129.3,391.9 129.3,395.0 131.0,395.0 138.9,395.0 138.9,399.3 145.9,399.3 145.9,402.4 159.6,402.4 159.6,405.5 181.2,405.5 181.4,407.0" fill="none" stroke="#dcdfdf" stroke-width="3.3" transform="translate(0.8,2.6)" filter="url(#bl)"/>
<polyline points="56.8,347.2 60.5,347.2 60.5,350.0 66.4,350.0 66.4,351.8 72.9,351.8 72.9,354.7 76.2,354.7 76.2,357.3 79.5,357.3 79.5,361.2 82.1,361.2 84.1,365.1 84.7,369.7 89.3,371.4 97.2,371.4 97.2,374.0 100.7,374.0 102.4,375.9 111.1,375.9 111.1,378.4 113.8,378.4 113.8,381.9 119.9,381.9 119.9,385.4 125.1,385.4 125.1,388.9 127.7,388.9 127.7,391.9 129.3,391.9 129.3,395.0 131.0,395.0 138.9,395.0 138.9,399.3 145.9,399.3 145.9,402.4 159.6,402.4 159.6,405.5 181.2,405.5 181.4,407.0" fill="none" stroke="#000" stroke-width="2.5" stroke-linejoin="miter"/>
<polyline points="56.8,347.5 67.0,347.5 68.3,351.4 69.7,362.8 74.2,362.8 74.2,367.1 78.2,367.1 78.2,373.3 88.7,373.3 88.7,377.6 91.9,377.6 91.9,380.1 92.2,380.1 92.2,382.6 92.6,382.6 92.6,385.2 92.9,385.2 92.9,387.7 93.2,387.7 93.2,390.2 93.6,390.2 93.6,392.7 93.9,392.7 93.9,395.2 94.2,395.2 94.2,397.8 94.5,397.8 94.5,400.3 94.9,400.3 94.9,402.8 95.2,402.8 104.3,402.8 104.3,408.0 128.4,408.0 128.4,413.3 158.5,413.3 158.7,416.0" fill="none" stroke="#dcdfdf" stroke-width="3.3" transform="translate(0.8,2.6)" filter="url(#bl)"/>
<polyline points="56.8,347.5 67.0,347.5 68.3,351.4 69.7,362.8 74.2,362.8 74.2,367.1 78.2,367.1 78.2,373.3 88.7,373.3 88.7,377.6 91.9,377.6 91.9,380.1 92.2,380.1 92.2,382.6 92.6,382.6 92.6,385.2 92.9,385.2 92.9,387.7 93.2,387.7 93.2,390.2 93.6,390.2 93.6,392.7 93.9,392.7 93.9,395.2 94.2,395.2 94.2,397.8 94.5,397.8 94.5,400.3 94.9,400.3 94.9,402.8 95.2,402.8 104.3,402.8 104.3,408.0 128.4,408.0 128.4,413.3 158.5,413.3 158.7,416.0" fill="none" stroke="#bf3a35" stroke-width="2.5" stroke-linejoin="miter"/>
<line x1="275.5" y1="345.3" x2="275.5" y2="433.4" stroke="#7a7a7a" stroke-width="1.1"/>
<line x1="275.5" y1="433.4" x2="431.1" y2="433.4" stroke="#7a7a7a" stroke-width="1.1"/>
<line x1="275.5" y1="428.8" x2="278.3" y2="428.8" stroke="#666" stroke-width="1"/>
<line x1="275.5" y1="419.0" x2="277.1" y2="419.0" stroke="#666" stroke-width="1"/>
<line x1="275.5" y1="409.2" x2="278.3" y2="409.2" stroke="#666" stroke-width="1"/>
<line x1="275.5" y1="399.4" x2="277.1" y2="399.4" stroke="#666" stroke-width="1"/>
<line x1="275.5" y1="389.6" x2="278.3" y2="389.6" stroke="#666" stroke-width="1"/>
<line x1="275.5" y1="379.8" x2="277.1" y2="379.8" stroke="#666" stroke-width="1"/>
<line x1="275.5" y1="370.0" x2="278.3" y2="370.0" stroke="#666" stroke-width="1"/>
<line x1="275.5" y1="360.2" x2="277.1" y2="360.2" stroke="#666" stroke-width="1"/>
<line x1="275.5" y1="350.4" x2="278.3" y2="350.4" stroke="#666" stroke-width="1"/>
<line x1="279.4" y1="433.4" x2="279.4" y2="429.0" stroke="#666" stroke-width="1.1"/>
<line x1="290.0" y1="433.4" x2="290.0" y2="430.79999999999995" stroke="#666" stroke-width="1.1"/>
<line x1="300.6" y1="433.4" x2="300.6" y2="429.0" stroke="#666" stroke-width="1.1"/>
<line x1="311.2" y1="433.4" x2="311.2" y2="430.79999999999995" stroke="#666" stroke-width="1.1"/>
<line x1="321.8" y1="433.4" x2="321.8" y2="429.0" stroke="#666" stroke-width="1.1"/>
<line x1="332.4" y1="433.4" x2="332.4" y2="430.79999999999995" stroke="#666" stroke-width="1.1"/>
<line x1="343.0" y1="433.4" x2="343.0" y2="429.0" stroke="#666" stroke-width="1.1"/>
<line x1="353.6" y1="433.4" x2="353.6" y2="430.79999999999995" stroke="#666" stroke-width="1.1"/>
<line x1="364.2" y1="433.4" x2="364.2" y2="429.0" stroke="#666" stroke-width="1.1"/>
<line x1="374.8" y1="433.4" x2="374.8" y2="430.79999999999995" stroke="#666" stroke-width="1.1"/>
<line x1="385.4" y1="433.4" x2="385.4" y2="429.0" stroke="#666" stroke-width="1.1"/>
<line x1="396.0" y1="433.4" x2="396.0" y2="430.79999999999995" stroke="#666" stroke-width="1.1"/>
<line x1="406.6" y1="433.4" x2="406.6" y2="429.0" stroke="#666" stroke-width="1.1"/>
<line x1="417.2" y1="433.4" x2="417.2" y2="430.79999999999995" stroke="#666" stroke-width="1.1"/>
<line x1="427.8" y1="433.4" x2="427.8" y2="429.0" stroke="#666" stroke-width="1.1"/>
<text transform="translate(254.13,355.00) scale(1.02,1)" font-size="11.9" font-weight="normal" fill="#262626" stroke="#262626" stroke-width="0.4" > 00</text>
<path transform="translate(254.13,355.00) scale(12.138,11.900)" d="M0.425,0 L0.338,0 L0.338,-0.545 Q0.24,-0.465 0.12,-0.415 L0.12,-0.495 Q0.28,-0.58 0.36,-0.688 L0.425,-0.688 Z" fill="#262626" stroke="#262626" stroke-width="0.0336"/>
<text transform="translate(258.66,374.60) scale(1.02,1)" font-size="11.9" font-weight="normal" fill="#262626" stroke="#262626" stroke-width="0.4" >75</text>
<text transform="translate(258.56,393.80) scale(1.02,1)" font-size="11.9" font-weight="normal" fill="#262626" stroke="#262626" stroke-width="0.4" >50</text>
<text transform="translate(258.56,413.10) scale(1.02,1)" font-size="11.9" font-weight="normal" fill="#262626" stroke="#262626" stroke-width="0.4" >25</text>
<text transform="translate(268.30,433.00) scale(1.02,1)" font-size="11.9" font-weight="normal" fill="#262626" stroke="#262626" stroke-width="0.4" >0</text>
<text transform="translate(276.71,449.00) scale(1.04,1)" font-size="11.4" font-weight="normal" fill="#262626" stroke="#262626" stroke-width="0.45" >0</text>
<text transform="translate(296.10,449.00) scale(1.04,1)" font-size="11.4" font-weight="normal" fill="#262626" stroke="#262626" stroke-width="0.45" > 2</text>
<path transform="translate(296.10,449.00) scale(11.856,11.400)" d="M0.425,0 L0.338,0 L0.338,-0.545 Q0.24,-0.465 0.12,-0.415 L0.12,-0.495 Q0.28,-0.58 0.36,-0.688 L0.425,-0.688 Z" fill="#262626" stroke="#262626" stroke-width="0.0395"/>
<text transform="translate(316.70,449.00) scale(1.04,1)" font-size="11.4" font-weight="normal" fill="#262626" stroke="#262626" stroke-width="0.45" >24</text>
<text transform="translate(338.55,449.00) scale(1.04,1)" font-size="11.4" font-weight="normal" fill="#262626" stroke="#262626" stroke-width="0.45" >36</text>
<text transform="translate(360.21,449.00) scale(1.04,1)" font-size="11.4" font-weight="normal" fill="#262626" stroke="#262626" stroke-width="0.45" >48</text>
<text transform="translate(381.36,449.00) scale(1.04,1)" font-size="11.4" font-weight="normal" fill="#262626" stroke="#262626" stroke-width="0.45" >60</text>
<text transform="translate(403.32,449.00) scale(1.04,1)" font-size="11.4" font-weight="normal" fill="#262626" stroke="#262626" stroke-width="0.45" >72</text>
<text transform="translate(423.43,449.00) scale(1.04,1)" font-size="11.4" font-weight="normal" fill="#262626" stroke="#262626" stroke-width="0.45" >84</text>
<text x="345.24" y="465.00" font-size="11.41" font-weight="bold" fill="#262626" stroke="#262626" stroke-width="0.15" >Time</text>
<text x="346.45" y="365.10" font-size="12.27" font-weight="bold" fill="#262626" stroke="#262626" stroke-width="0.15" ><tspan font-style="italic">p</tspan> = 0.0 7</text>
<path transform="translate(384.99,365.10) scale(12.270,12.270)" d="M0.425,0 L0.285,0 L0.285,-0.49 Q0.2,-0.415 0.11,-0.375 L0.11,-0.5 Q0.25,-0.57 0.33,-0.688 L0.425,-0.688 Z" fill="#262626" stroke="#262626" stroke-width="0.0122"/>
<text transform="translate(243.66,480.30) scale(1.06,1)" font-size="11.4" font-weight="bold" fill="#262626" stroke="#262626" stroke-width="0.15" >Number at risk</text>
<text transform="translate(237.06,495.30) scale(1.06,1)" font-size="11.5" font-weight="bold" fill="#262626" stroke="#262626" stroke-width="0.15" >Group: CXCL 2 low expression</text>
<path transform="translate(314.26,495.30) scale(12.190,11.500)" d="M0.425,0 L0.285,0 L0.285,-0.49 Q0.2,-0.415 0.11,-0.375 L0.11,-0.5 Q0.25,-0.57 0.33,-0.688 L0.425,-0.688 Z" fill="#262626" stroke="#262626" stroke-width="0.0130"/>
<text transform="translate(237.06,525.90) scale(1.06,1)" font-size="11.49" font-weight="bold" fill="#262626" stroke="#262626" stroke-width="0.15" >Group: CXCL 2 high expression</text>
<path transform="translate(314.19,525.90) scale(12.179,11.490)" d="M0.425,0 L0.285,0 L0.285,-0.49 Q0.2,-0.415 0.11,-0.375 L0.11,-0.5 Q0.25,-0.57 0.33,-0.688 L0.425,-0.688 Z" fill="#262626" stroke="#262626" stroke-width="0.0131"/>
<line x1="429.3" y1="491.9" x2="447.8" y2="491.9" stroke="#d3d7d7" stroke-width="2.6"/>
<line x1="429.3" y1="489.7" x2="447" y2="489.7" stroke="#000" stroke-width="2.3"/>
<line x1="430.2" y1="524.2" x2="448.90000000000003" y2="524.2" stroke="#d3d7d7" stroke-width="2.6"/>
<line x1="430.2" y1="522" x2="448.1" y2="522" stroke="#bf3a35" stroke-width="2.3"/>
<text transform="translate(274.96,509.30) scale(0.96,1)" font-size="12.2" font-weight="bold" fill="#262626" stroke="#262626" stroke-width="0.15" >36</text>
<text transform="translate(296.39,509.30) scale(0.96,1)" font-size="12.2" font-weight="bold" fill="#262626" stroke="#262626" stroke-width="0.15" >32</text>
<text transform="translate(317.02,509.30) scale(0.96,1)" font-size="12.2" font-weight="bold" fill="#262626" stroke="#262626" stroke-width="0.15" >24</text>
<text transform="translate(338.53,509.30) scale(0.96,1)" font-size="12.2" font-weight="bold" fill="#262626" stroke="#262626" stroke-width="0.15" >20</text>
<text transform="translate(359.80,509.30) scale(0.96,1)" font-size="12.2" font-weight="bold" fill="#262626" stroke="#262626" stroke-width="0.15" > 5</text>
<path transform="translate(359.80,509.30) scale(11.712,12.200)" d="M0.425,0 L0.285,0 L0.285,-0.49 Q0.2,-0.415 0.11,-0.375 L0.11,-0.5 Q0.25,-0.57 0.33,-0.688 L0.425,-0.688 Z" fill="#262626" stroke="#262626" stroke-width="0.0123"/>
<text transform="translate(380.49,509.30) scale(0.96,1)" font-size="12.2" font-weight="bold" fill="#262626" stroke="#262626" stroke-width="0.15" > 0</text>
<path transform="translate(380.49,509.30) scale(11.712,12.200)" d="M0.425,0 L0.285,0 L0.285,-0.49 Q0.2,-0.415 0.11,-0.375 L0.11,-0.5 Q0.25,-0.57 0.33,-0.688 L0.425,-0.688 Z" fill="#262626" stroke="#262626" stroke-width="0.0123"/>
<text transform="translate(404.77,509.30) scale(0.96,1)" font-size="12.2" font-weight="bold" fill="#262626" stroke="#262626" stroke-width="0.15" > </text>
<path transform="translate(404.77,509.30) scale(11.712,12.200)" d="M0.425,0 L0.285,0 L0.285,-0.49 Q0.2,-0.415 0.11,-0.375 L0.11,-0.5 Q0.25,-0.57 0.33,-0.688 L0.425,-0.688 Z" fill="#262626" stroke="#262626" stroke-width="0.0123"/>
<text transform="translate(425.77,509.30) scale(0.96,1)" font-size="12.2" font-weight="bold" fill="#262626" stroke="#262626" stroke-width="0.15" > </text>
<path transform="translate(425.77,509.30) scale(11.712,12.200)" d="M0.425,0 L0.285,0 L0.285,-0.49 Q0.2,-0.415 0.11,-0.375 L0.11,-0.5 Q0.25,-0.57 0.33,-0.688 L0.425,-0.688 Z" fill="#262626" stroke="#262626" stroke-width="0.0123"/>
<text transform="translate(274.38,537.40) scale(0.96,1)" font-size="12.2" font-weight="bold" fill="#262626" stroke="#262626" stroke-width="0.15" > 4</text>
<path transform="translate(274.38,537.40) scale(11.712,12.200)" d="M0.425,0 L0.285,0 L0.285,-0.49 Q0.2,-0.415 0.11,-0.375 L0.11,-0.5 Q0.25,-0.57 0.33,-0.688 L0.425,-0.688 Z" fill="#262626" stroke="#262626" stroke-width="0.0123"/>
<text transform="translate(296.29,537.40) scale(0.96,1)" font-size="12.2" font-weight="bold" fill="#262626" stroke="#262626" stroke-width="0.15" > 0</text>
<path transform="translate(296.29,537.40) scale(11.712,12.200)" d="M0.425,0 L0.285,0 L0.285,-0.49 Q0.2,-0.415 0.11,-0.375 L0.11,-0.5 Q0.25,-0.57 0.33,-0.688 L0.425,-0.688 Z" fill="#262626" stroke="#262626" stroke-width="0.0123"/>
<text transform="translate(319.72,537.40) scale(0.96,1)" font-size="12.2" font-weight="bold" fill="#262626" stroke="#262626" stroke-width="0.15" >5</text>
<text transform="translate(340.49,537.40) scale(0.96,1)" font-size="12.2" font-weight="bold" fill="#262626" stroke="#262626" stroke-width="0.15" >4</text>
<text transform="translate(362.87,537.40) scale(0.96,1)" font-size="12.2" font-weight="bold" fill="#262626" stroke="#262626" stroke-width="0.15" > </text>
<path transform="translate(362.87,537.40) scale(11.712,12.200)" d="M0.425,0 L0.285,0 L0.285,-0.49 Q0.2,-0.415 0.11,-0.375 L0.11,-0.5 Q0.25,-0.57 0.33,-0.688 L0.425,-0.688 Z" fill="#262626" stroke="#262626" stroke-width="0.0123"/>
<text transform="translate(383.35,537.40) scale(0.96,1)" font-size="12.2" font-weight="bold" fill="#262626" stroke="#262626" stroke-width="0.15" >0</text>
<text transform="translate(404.75,537.40) scale(0.96,1)" font-size="12.2" font-weight="bold" fill="#262626" stroke="#262626" stroke-width="0.15" >0</text>
<text transform="translate(425.85,537.40) scale(0.96,1)" font-size="12.2" font-weight="bold" fill="#262626" stroke="#262626" stroke-width="0.15" >0</text>
<text transform="translate(249.76,436.25) rotate(-90)" font-size="11.90" font-weight="normal" fill="#2a2a2a" stroke="#2a2a2a" stroke-width="0.45" letter-spacing="0.369">CSS probability (%)</text>
<polyline points="278.9,350.4 284.8,350.4 284.8,352.0 292.0,352.0 292.0,353.8 296.0,355.0 299.2,357.0 301.9,359.0 303.2,360.3 304.5,363.6 304.5,366.6 306.1,366.6 306.1,369.5 307.8,369.5 313.0,369.5 313.0,370.8 316.9,372.1 316.9,374.7 319.5,374.7 319.5,377.3 323.5,377.3 323.5,380.0 327.4,380.0 327.4,382.6 330.0,382.6 338.5,382.6 341.4,384.6 346.4,386.5 349.3,388.5 352.2,390.5 352.2,393.1 354.2,393.1 354.2,395.8 356.2,395.8 366.0,395.8 366.0,398.3 372.9,398.3 372.9,400.0 387.4,400.0 387.4,403.5 409.5,403.5 409.7,405.0" fill="none" stroke="#dcdfdf" stroke-width="3.3" transform="translate(0.8,2.6)" filter="url(#bl)"/>
<polyline points="278.9,350.4 284.8,350.4 284.8,352.0 292.0,352.0 292.0,353.8 296.0,355.0 299.2,357.0 301.9,359.0 303.2,360.3 304.5,363.6 304.5,366.6 306.1,366.6 306.1,369.5 307.8,369.5 313.0,369.5 313.0,370.8 316.9,372.1 316.9,374.7 319.5,374.7 319.5,377.3 323.5,377.3 323.5,380.0 327.4,380.0 327.4,382.6 330.0,382.6 338.5,382.6 341.4,384.6 346.4,386.5 349.3,388.5 352.2,390.5 352.2,393.1 354.2,393.1 354.2,395.8 356.2,395.8 366.0,395.8 366.0,398.3 372.9,398.3 372.9,400.0 387.4,400.0 387.4,403.5 409.5,403.5 409.7,405.0" fill="none" stroke="#000" stroke-width="2.5" stroke-linejoin="miter"/>
<polyline points="278.9,350.4 290.5,350.4 291.4,355.0 293.1,366.9 298.8,366.9 298.8,371.8 307.8,371.8 307.8,378.0 313.0,378.0 313.0,383.2 317.9,383.2 319.8,399.3 336.5,399.3 336.5,406.6 354.2,406.6 354.2,412.0 356.2,412.0 356.2,417.4 366.6,417.4 366.6,427.8" fill="none" stroke="#dcdfdf" stroke-width="3.3" transform="translate(0.8,2.6)" filter="url(#bl)"/>
<polyline points="278.9,350.4 290.5,350.4 291.4,355.0 293.1,366.9 298.8,366.9 298.8,371.8 307.8,371.8 307.8,378.0 313.0,378.0 313.0,383.2 317.9,383.2 319.8,399.3 336.5,399.3 336.5,406.6 354.2,406.6 354.2,412.0 356.2,412.0 356.2,417.4 366.6,417.4 366.6,427.8" fill="none" stroke="#bf3a35" stroke-width="2.5" stroke-linejoin="miter"/>
<line x1="146.3" y1="138.6" x2="146.3" y2="141.2" stroke="#555" stroke-width="0.9"/>
<line x1="154.1" y1="138.6" x2="154.1" y2="141.2" stroke="#555" stroke-width="0.9"/>
<line x1="160.3" y1="138.6" x2="160.3" y2="141.2" stroke="#555" stroke-width="0.9"/>
<line x1="162.9" y1="138.6" x2="162.9" y2="141.2" stroke="#555" stroke-width="0.9"/>
<line x1="165.5" y1="138.6" x2="165.5" y2="141.2" stroke="#555" stroke-width="0.9"/>
<line x1="171.6" y1="138.6" x2="171.6" y2="141.2" stroke="#555" stroke-width="0.9"/>
<line x1="378.5" y1="132.8" x2="378.5" y2="135.4" stroke="#555" stroke-width="0.9"/>
<line x1="384.4" y1="132.8" x2="384.4" y2="135.4" stroke="#555" stroke-width="0.9"/>
<line x1="387" y1="132.8" x2="387" y2="135.4" stroke="#555" stroke-width="0.9"/>
<line x1="389.7" y1="132.8" x2="389.7" y2="135.4" stroke="#555" stroke-width="0.9"/>
<line x1="393.6" y1="132.8" x2="393.6" y2="135.4" stroke="#555" stroke-width="0.9"/>
<line x1="397.5" y1="132.8" x2="397.5" y2="135.4" stroke="#555" stroke-width="0.9"/>
<line x1="400.1" y1="132.8" x2="400.1" y2="135.4" stroke="#555" stroke-width="0.9"/>
<line x1="162.4" y1="406.5" x2="162.4" y2="409.1" stroke="#555" stroke-width="0.9"/>
<line x1="167.7" y1="406.5" x2="167.7" y2="409.1" stroke="#555" stroke-width="0.9"/>
<line x1="169.7" y1="406.5" x2="169.7" y2="409.1" stroke="#555" stroke-width="0.9"/>
<line x1="171.6" y1="406.5" x2="171.6" y2="409.1" stroke="#555" stroke-width="0.9"/>
<line x1="173.6" y1="406.5" x2="173.6" y2="409.1" stroke="#555" stroke-width="0.9"/>
<line x1="175.5" y1="406.5" x2="175.5" y2="409.1" stroke="#555" stroke-width="0.9"/>
<line x1="151" y1="403.4" x2="151" y2="406.0" stroke="#555" stroke-width="0.9"/>
<line x1="153.5" y1="403.4" x2="153.5" y2="406.0" stroke="#555" stroke-width="0.9"/>
<line x1="156" y1="403.4" x2="156" y2="406.0" stroke="#555" stroke-width="0.9"/>
<line x1="135" y1="413.3" x2="135" y2="416" stroke="#bf3a35" stroke-width="1"/>
<line x1="389.8" y1="404.5" x2="389.8" y2="407.1" stroke="#555" stroke-width="0.9"/>
<line x1="395.7" y1="404.5" x2="395.7" y2="407.1" stroke="#555" stroke-width="0.9"/>
<line x1="397.7" y1="404.5" x2="397.7" y2="407.1" stroke="#555" stroke-width="0.9"/>
<line x1="399.7" y1="404.5" x2="399.7" y2="407.1" stroke="#555" stroke-width="0.9"/>
<line x1="401.6" y1="404.5" x2="401.6" y2="407.1" stroke="#555" stroke-width="0.9"/>
<line x1="403.6" y1="404.5" x2="403.6" y2="407.1" stroke="#555" stroke-width="0.9"/>
<line x1="381" y1="401" x2="381" y2="403.6" stroke="#555" stroke-width="0.9"/>
<line x1="384" y1="401" x2="384" y2="403.6" stroke="#555" stroke-width="0.9"/>
</svg></body></html>
